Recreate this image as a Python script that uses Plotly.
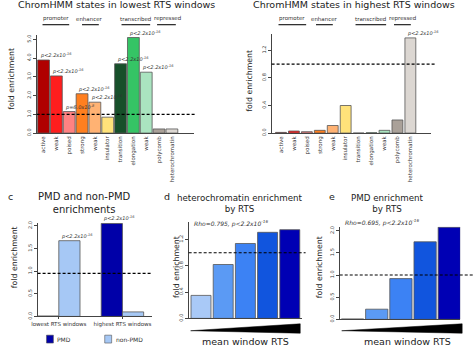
import plotly.graph_objects as go

W, H = 474, 349
FONT = "DejaVu Sans"

# ---------------- data ----------------
states = ["active", "weak", "poised", "strong", "weak", "insulator",
          "transition", "elongation", "weak", "polycomb", "heterochromatin"]
state_colors = ["#B00000", "#FF1E1E", "#FF8282", "#FF7F1F", "#FFB273", "#FFE27A",
                "#17502A", "#35C465", "#AAE4C0", "#AAA199", "#DCD7D2"]
low_rts = [3.9, 3.05, 1.15, 2.1, 1.65, 0.85, 3.7, 5.1, 3.25, 0.22, 0.22]
high_rts = [0.01, 0.03, 0.02, 0.04, 0.11, 0.40, 0.0, 0.005, 0.04, 0.19, 1.38]
P16 = "p&lt;2.2x10<sup>-16</sup>"
low_pvals = [P16, P16, "p=6.0x10<sup>-8</sup>", P16, P16, None, P16, P16, P16, None, None]
high_pvals = [None] * 10 + [P16]

pmd_groups = ["lowest RTS windows", "highest RTS windows"]
pmd_vals = [0.01, 2.05]
nonpmd_vals = [1.67, 0.10]
pmd_pvals = [None, P16]
nonpmd_pvals = [P16, None]

rts_bins = [1, 2, 3, 4, 5]
het_by_rts = [0.35, 0.82, 1.14, 1.31, 1.35]
pmd_by_rts = [0.01, 0.23, 0.92, 1.75, 2.08]
rts_colors = ["#A9C9F7", "#5B9AF4", "#3C82F4", "#1155DE", "#0000B4"]
PMD_COLOR, NONPMD_COLOR = "#0000A8", "#A6C8F5"


def px(x):
    return x / W


def py(y):
    return 1 - y / H


fig = go.Figure()
BORDER = dict(color="#555555", width=0.8)

# panel a
fig.add_trace(go.Bar(x=list(range(len(states))), y=low_rts, width=0.92,
                     marker=dict(color=state_colors, line=BORDER),
                     xaxis="x", yaxis="y", showlegend=False))
# panel b
fig.add_trace(go.Bar(x=list(range(len(states))), y=high_rts, width=0.84,
                     marker=dict(color=state_colors, line=BORDER),
                     xaxis="x2", yaxis="y2", showlegend=False))
# panel c
fig.add_trace(go.Bar(x=[0.5, 3.5], y=pmd_vals, width=1.0,
                     marker=dict(color=PMD_COLOR, line=BORDER),
                     xaxis="x3", yaxis="y3", showlegend=False))
fig.add_trace(go.Bar(x=[1.5, 4.5], y=nonpmd_vals, width=1.0,
                     marker=dict(color=NONPMD_COLOR, line=BORDER),
                     xaxis="x3", yaxis="y3", showlegend=False))
# panel d
fig.add_trace(go.Bar(x=[b - 1 for b in rts_bins], y=het_by_rts, width=0.9,
                     marker=dict(color=rts_colors, line=BORDER),
                     xaxis="x4", yaxis="y4", showlegend=False))
# panel e
fig.add_trace(go.Bar(x=[b - 1 for b in rts_bins], y=pmd_by_rts, width=0.92,
                     marker=dict(color=rts_colors, line=BORDER),
                     xaxis="x5", yaxis="y5", showlegend=False))

AX = dict(showline=True, linecolor="#444444", linewidth=1, showgrid=False,
          zeroline=False, fixedrange=True)
TICKF = dict(family=FONT, size=5, color="#333333")


def yax(top_px, bot_px, rng, tv, tt):
    return dict(AX, domain=[py(bot_px), py(top_px)], range=rng, tickvals=tv, ticktext=tt,
                ticks="outside", ticklen=3, tickwidth=1, tickcolor="#444444",
                tickangle=-90, tickfont=TICKF)


def xax(l_px, r_px, rng, anchor, **kw):
    d = dict(AX, domain=[px(l_px), px(r_px)], range=rng, anchor=anchor)
    d.update(kw)
    return d


cat_font = dict(family=FONT, size=5.5, color="#333333")
fig.update_layout(
    xaxis=xax(31, 190, [-0.54, 11.69], "y", tickvals=list(range(11)), ticktext=states,
              tickangle=-90, ticks="", tickfont=cat_font),
    yaxis=yax(33, 133, [0, 5.26], [0, 1, 2, 3, 4, 5], ["0.0", "1.0", "2.0", "3.0", "4.0", "5.0"]),
    xaxis2=xax(269, 430, [-0.725, 11.56], "y2", tickvals=list(range(11)), ticktext=states,
               tickangle=-90, ticks="", tickfont=cat_font),
    yaxis2=dict(yax(32, 133, [0, 1.443], [0, 0.4, 0.8, 1.2], ["0.0", "0.4", "0.8", "1.2"]), anchor="x2"),
    xaxis3=xax(32, 148, [0, 5.4], "y3", tickvals=[1, 4], ticktext=pmd_groups,
               ticks="outside", ticklen=2, tickcolor="#444444",
               tickfont=dict(family=FONT, size=5.5, color="#333333")),
    yaxis3=dict(yax(224, 319, [0, 2.065], [0, 0.5, 1, 1.5, 2], ["0.0", "0.5", "1.0", "1.5", "2.0"]), anchor="x3"),
    xaxis4=xax(185, 300, [-0.556, 4.56], "y4", showticklabels=False, ticks=""),
    yaxis4=dict(yax(223, 321, [0, 1.47], [0, 0.4, 0.8, 1.2], ["0.0", "0.4", "0.8", "1.2"]), anchor="x4"),
    xaxis5=xax(338, 460, [-0.53, 4.45], "y5", showticklabels=False, ticks=""),
    yaxis5=dict(yax(228, 322, [0, 2.09], [0, 0.5, 1, 1.5, 2], ["0.0", "0.5", "1.0", "1.5", "2.0"]), anchor="x5"),
    width=W, height=H, autosize=False,
    margin=dict(l=0, r=0, t=0, b=0, pad=0),
    paper_bgcolor="white", plot_bgcolor="rgba(0,0,0,0)",
    font=dict(family=FONT, color="#222222"),
    barmode="overlay",
)

ann = []
shapes = []
PF = dict(family=FONT, size=5, color="#333333")

# p-value labels
for axn, vals, pv, w in [("", low_rts, low_pvals, 0.92), ("2", high_rts, high_pvals, 0.84)]:
    for i, (v, t) in enumerate(zip(vals, pv)):
        if t:
            ann.append(dict(x=i - w / 2, y=v, xref="x" + axn, yref="y" + axn, text="<i>" + t + "</i>",
                            showarrow=False, xanchor="left", yanchor="bottom", font=PF, yshift=-1))
for xs, vals, pv in [([0.5, 3.5], pmd_vals, pmd_pvals), ([1.5, 4.5], nonpmd_vals, nonpmd_pvals)]:
    for x, v, t in zip(xs, vals, pv):
        if t:
            ann.append(dict(x=x - 0.5, y=v, xref="x3", yref="y3", text="<i>" + t + "</i>",
                            showarrow=False, xanchor="left", yanchor="bottom", font=PF, yshift=-1))
RF = dict(family=FONT, size=6, color="#333333")
ann.append(dict(x=px(188), y=py(225), xref="paper", yref="paper", xanchor="left", yanchor="middle",
                text="<i>Rho=0.795, p&lt;2.2x10<sup>-16</sup></i>", showarrow=False, font=RF))
ann.append(dict(x=px(341), y=py(224), xref="paper", yref="paper", xanchor="left", yanchor="middle",
                text="<i>Rho=0.695, p&lt;2.2x10<sup>-16</sup></i>", showarrow=False, font=RF))

# dashed reference lines at fold enrichment = 1
for axn, x1 in [("", 1.01), ("2", 1.03), ("3", 1.0), ("4", 1.03), ("5", 1.2)]:
    yv = 0.95 if axn == "3" else 1.0
    shapes.append(dict(type="line", xref="x%s domain" % axn, yref="y" + axn, x0=0, x1=x1,
                       y0=yv, y1=yv, line=dict(color="black", width=1.1, dash="3px,2px")))

# titles
TF = dict(family=FONT, size=9.5, color="#222222")
ann.append(dict(x=px(112), y=py(3), xref="paper", yref="paper", text="ChromHMM states in lowest RTS windows",
                showarrow=False, font=TF, xanchor="center", yanchor="middle"))
ann.append(dict(x=px(352), y=py(3), xref="paper", yref="paper", text="ChromHMM states in highest RTS windows",
                showarrow=False, font=TF, xanchor="center", yanchor="middle"))
for x, t, s in [(80, "PMD and non-PMD<br>enrichments", 10), (237, "heterochromatin enrichment<br>by RTS", 8.7),
                (386, "PMD enrichment<br>by RTS", 8.7)]:
    ann.append(dict(x=px(x), y=py(204), xref="paper", yref="paper", text=t, showarrow=False,
                    font=dict(family=FONT, size=s, color="#222222"), xanchor="center", yanchor="middle",
                    align="center"))
for x, t in [(5, "c"), (163, "d"), (330, "e")]:
    ann.append(dict(x=px(x), y=py(197), xref="paper", yref="paper", text=t, showarrow=False,
                    font=dict(family=FONT, size=9.5, color="#222222"), xanchor="center", yanchor="middle"))

# y-axis titles
YF = dict(family=FONT, size=7.8, color="#222222")
for x, y in [(6, 78), (247, 80), (8, 259), (172, 269), (317, 269)]:
    ann.append(dict(x=px(x), y=py(y), xref="paper", yref="paper", text="fold enrichment", textangle=-90,
                    showarrow=False, font=YF, xanchor="center", yanchor="middle"))

# mean window RTS
for x in [243, 407]:
    ann.append(dict(x=px(x), y=py(344), xref="paper", yref="paper", text="mean window RTS", showarrow=False,
                    font=dict(family=FONT, size=9.5, color="#222222"), xanchor="center", yanchor="middle"))

# wedges
for l, r in [(187, 298), (340, 462)]:
    path = "M%.4f,%.4f L%.4f,%.4f L%.4f,%.4f Z" % (px(l), py(333.5), px(r), py(326.5), px(r), py(336))
    shapes.append(dict(type="path", xref="paper", yref="paper", path=path, fillcolor="black",
                       line=dict(color="black", width=0.5)))

# group labels with underlines
GF = dict(family=FONT, size=5.5, color="#333333")
groups_a = [("promoter", 51, 37, 64), ("enhancer", 85, 77, 94), ("transcribed", 131, 117, 146),
            ("repressed", 164, 153, 172)]
groups_b = [("promoter", 290, 276, 304), ("enhancer", 323, 314, 331), ("transcribed", 369, 354, 385),
            ("repressed", 402, 393, 410)]
for name, cx, l, r in groups_a + groups_b:
    ann.append(dict(x=px(cx), y=py(17), xref="paper", yref="paper", text=name, showarrow=False,
                    font=GF, xanchor="center", yanchor="middle"))
    shapes.append(dict(type="line", xref="paper", yref="paper", x0=px(l), x1=px(r), y0=py(23), y1=py(23),
                       line=dict(color="#222222", width=1.2)))

# legend for panel c
for l, color, label in [(41, PMD_COLOR, "PMD"), (100, NONPMD_COLOR, "non-PMD")]:
    shapes.append(dict(type="rect", xref="paper", yref="paper", x0=px(l), x1=px(l + 7), y0=py(346), y1=py(338),
                       fillcolor=color, line=dict(color="#555555", width=0.6)))
    ann.append(dict(x=px(l + 9), y=py(342), xref="paper", yref="paper", text=label, showarrow=False,
                    font=dict(family=FONT, size=6, color="#333333"), xanchor="left", yanchor="middle"))

fig.update_layout(annotations=ann, shapes=shapes)
fig.write_html("out.html")
